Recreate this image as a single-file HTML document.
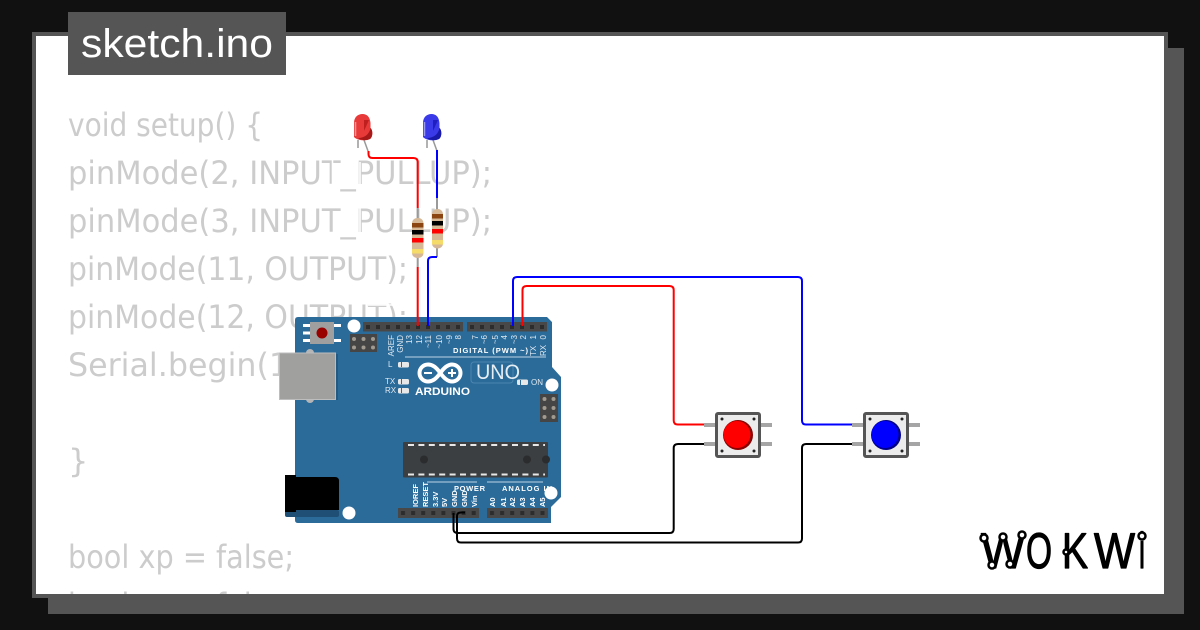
<!DOCTYPE html>
<html><head><meta charset="utf-8"><style>
html,body{margin:0;padding:0;background:#111;width:1200px;height:630px;overflow:hidden}
svg{display:block}
</style></head><body>
<svg width="1200" height="630" viewBox="0 0 1200 630" xmlns="http://www.w3.org/2000/svg">
<defs>
<pattern id="hdr" x="363" y="322" width="10" height="10" patternUnits="userSpaceOnUse"><rect width="10" height="10" fill="#484848"/><rect x="3" y="3" width="4" height="4" fill="#2c2c2c"/></pattern>
<pattern id="hdr2" x="467" y="322" width="10" height="10" patternUnits="userSpaceOnUse"><rect width="10" height="10" fill="#484848"/><rect x="3" y="3" width="4" height="4" fill="#2c2c2c"/></pattern>
<pattern id="hdr3" x="398" y="508" width="10.1" height="10" patternUnits="userSpaceOnUse"><rect width="10.1" height="10" fill="#484848"/><rect x="3" y="3" width="4" height="4" fill="#2c2c2c"/></pattern>
<pattern id="hdr4" x="487" y="508" width="10.1" height="10" patternUnits="userSpaceOnUse"><rect width="10.1" height="10" fill="#484848"/><rect x="3" y="3" width="4" height="4" fill="#2c2c2c"/></pattern>
<clipPath id="card"><rect x="36" y="36" width="1128" height="558"/></clipPath>
</defs>
<rect width="1200" height="630" fill="#111"/>
<rect x="48" y="48" width="1136" height="566" fill="#555"/>
<rect x="32" y="32" width="1136" height="566" fill="#555"/>
<rect x="36" y="36" width="1128" height="558" fill="#fff"/>

<g clip-path="url(#card)" font-family="'DejaVu Sans',sans-serif" font-size="32" fill="#ccc">
<text x="68" y="136" textLength="195" lengthAdjust="spacingAndGlyphs">void setup() {</text>
<text x="68" y="184" textLength="424" lengthAdjust="spacingAndGlyphs">pinMode(2, INPUT_PULLUP);</text>
<text x="68" y="232" textLength="424" lengthAdjust="spacingAndGlyphs">pinMode(3, INPUT_PULLUP);</text>
<text x="68" y="280" textLength="340" lengthAdjust="spacingAndGlyphs">pinMode(11, OUTPUT);</text>
<text x="68" y="328" textLength="340" lengthAdjust="spacingAndGlyphs">pinMode(12, OUTPUT);</text>
<text x="68" y="376" textLength="345" lengthAdjust="spacingAndGlyphs">Serial.begin(115200);</text>
<text x="68" y="472">}</text>
<text x="68" y="568" textLength="226" lengthAdjust="spacingAndGlyphs">bool xp = false;</text>
<text x="68" y="616" textLength="226" lengthAdjust="spacingAndGlyphs">bool yp = false;</text>
</g>

<rect x="68" y="12" width="218" height="63" fill="#555"/>
<text x="81" y="57" font-family="'Liberation Sans',sans-serif" font-size="40" fill="#fff" textLength="192" lengthAdjust="spacingAndGlyphs">sketch.ino</text>

<!-- white wires over text -->
<g fill="none" stroke="#fff" stroke-width="1.6">
<path d="M332.500 160V184"/>
<path d="M360 162V232"/>
<path d="M355.500 265V277"/>
<path d="M368 305H394Q398.500 305 398.500 310V326"/>
</g>

<!-- Board -->
<path d="M298 317H547L552 322V367L561 377V497L551 507V523H298Q295 523 295 520V320Q295 317 298 317Z" fill="#2b6b9a"/>
<circle cx="354" cy="326" r="6.500" fill="#fff"/>
<circle cx="552" cy="385" r="6.500" fill="#fff"/>
<circle cx="551" cy="493" r="6.500" fill="#fff"/>
<circle cx="349" cy="513" r="6.500" fill="#fff"/>

<rect x="363" y="322" width="100" height="9.500" fill="url(#hdr)"/>
<rect x="467" y="322" width="80" height="9.500" fill="url(#hdr2)"/>
<rect x="398" y="508" width="81" height="10" fill="url(#hdr3)"/>
<rect x="487" y="508" width="61" height="10" fill="url(#hdr4)"/>

<!-- reset -->
<g fill="#fff">
<rect x="303" y="324" width="8" height="3"/><rect x="303" y="331.500" width="8" height="3"/><rect x="303" y="339" width="8" height="3"/>
<rect x="333" y="324" width="8" height="3"/><rect x="333" y="339" width="8" height="3"/>
</g>
<rect x="310" y="322" width="24" height="22" fill="#9f9f9f"/>
<circle cx="322" cy="333" r="5.500" fill="#990000"/>
<!-- ICSP -->
<rect x="350" y="334" width="27" height="18" fill="#454545"/>
<g fill="#a09a90">
<circle cx="354" cy="339" r="2"/><circle cx="363.500" cy="339" r="2"/><circle cx="373" cy="339" r="2"/>
<circle cx="354" cy="347.500" r="2"/><circle cx="363.500" cy="347.500" r="2"/><circle cx="373" cy="347.500" r="2"/>
</g>
<rect x="540" y="394" width="18" height="28" fill="#454545"/>
<g fill="#a09a90">
<circle cx="544.500" cy="399" r="2"/><circle cx="553.500" cy="399" r="2"/>
<circle cx="544.500" cy="408" r="2"/><circle cx="553.500" cy="408" r="2"/>
<circle cx="544.500" cy="417" r="2"/><circle cx="553.500" cy="417" r="2"/>
</g>
<!-- USB -->
<circle cx="310" cy="353" r="4" fill="#b5b5b5"/>
<circle cx="310" cy="399" r="4" fill="#b5b5b5"/>
<rect x="336" y="354" width="2" height="46" fill="#235a84"/>
<rect x="279.500" y="353" width="56" height="46.500" fill="#a0a09e" stroke="#bdbdbd" stroke-width="1"/>
<!-- Jack -->
<rect x="285" y="510" width="54" height="7" rx="2" fill="#1f4f74"/>
<rect x="285" y="475" width="11" height="37" fill="#000"/>
<path d="M295 477H335Q339 477 339 481V510H295Z" fill="#000"/>
<!-- IC -->
<rect x="403" y="442" width="145" height="35.500" rx="1" fill="#3c3f41"/>
<g stroke="#e8e8e8" stroke-width="2" stroke-dasharray="6 4.400" fill="none">
<path d="M408 445H545"/><path d="M408 474.500H545"/>
</g>
<circle cx="424" cy="459.500" r="4" fill="#2a2c2e"/>
<circle cx="527" cy="459.500" r="4" fill="#2a2c2e"/>
<circle cx="546" cy="459.500" r="4" fill="#2a2c2e"/>

<!-- Lines -->
<g stroke="#bcd3e4" stroke-width="1" fill="none">
<path d="M405 357H546"/><path d="M427 482H477"/><path d="M487 482H543"/>
</g>
<!-- LEDs -->
<g fill="#e8e8e8">
<rect x="398" y="362" width="11" height="5.500" rx="1.500"/>
<rect x="398" y="379" width="11" height="5.500" rx="1.500"/>
<rect x="398" y="388" width="11" height="5.500" rx="1.500"/>
<rect x="517" y="379.500" width="11" height="5.500" rx="1.500"/>
</g>
<g fill="#2b6b9a"><rect x="401" y="362" width="1" height="5"/><rect x="401" y="379" width="1" height="5"/><rect x="401" y="388" width="1" height="5"/><rect x="520" y="380" width="1" height="5"/></g>

<!-- Labels -->
<g font-family="'Liberation Sans',sans-serif" fill="#dfe8ef" font-size="8">
<text x="388" y="367">L</text>
<text x="385" y="384">TX</text>
<text x="385" y="393">RX</text>
<text x="531" y="385">ON</text>
<text transform="translate(394,335) rotate(-90)" text-anchor="end">AREF</text>
<text transform="translate(403,335) rotate(-90)" text-anchor="end">GND</text>
<text transform="translate(412,335) rotate(-90)" text-anchor="end">13</text>
<text transform="translate(422,335) rotate(-90)" text-anchor="end">12</text>
<text transform="translate(431,335) rotate(-90)" text-anchor="end">~11</text>
<text transform="translate(442,335) rotate(-90)" text-anchor="end">~10</text>
<text transform="translate(452,335) rotate(-90)" text-anchor="end">~9</text>
<text transform="translate(461,335) rotate(-90)" text-anchor="end">8</text>
<text transform="translate(478,335) rotate(-90)" text-anchor="end">7</text>
<text transform="translate(487,335) rotate(-90)" text-anchor="end">~6</text>
<text transform="translate(498,335) rotate(-90)" text-anchor="end">~5</text>
<text transform="translate(507,335) rotate(-90)" text-anchor="end">4</text>
<text transform="translate(517,335) rotate(-90)" text-anchor="end">~3</text>
<text transform="translate(526,335) rotate(-90)" text-anchor="end">2</text>
<text transform="translate(536,335) rotate(-90)" text-anchor="end">1</text>
<text transform="translate(546,335) rotate(-90)" text-anchor="end">0</text>
<text transform="translate(536,356) rotate(-90)">TX</text>
<text transform="translate(546,356) rotate(-90)">RX</text>
</g>
<g font-family="'Liberation Sans',sans-serif" fill="#fff" font-weight="bold" font-size="7.500">
<text x="453" y="353" textLength="75">DIGITAL (PWM ~)</text>
<text x="454" y="491" textLength="31">POWER</text>
<text x="502" y="491" textLength="50">ANALOG IN</text>
<text transform="translate(418,507) rotate(-90)">IOREF</text>
<text transform="translate(428,507) rotate(-90)">RESET</text>
<text transform="translate(438,507) rotate(-90)">3.3V</text>
<text transform="translate(447,507) rotate(-90)">5V</text>
<text transform="translate(457,507) rotate(-90)">GND</text>
<text transform="translate(467,507) rotate(-90)">GND</text>
<text transform="translate(477,507) rotate(-90)">Vin</text>
<text transform="translate(495,507) rotate(-90)">A0</text>
<text transform="translate(506,507) rotate(-90)">A1</text>
<text transform="translate(515,507) rotate(-90)">A2</text>
<text transform="translate(525,507) rotate(-90)">A3</text>
<text transform="translate(535,507) rotate(-90)">A4</text>
<text transform="translate(545,507) rotate(-90)">A5</text>
</g>
<!-- Arduino logo -->
<g fill="none" stroke="#fff" stroke-width="4">
<path d="M440.300 373C436 367 432.500 364.500 428 364.500A8.500 8.500 0 0 0 428 381.500C432.500 381.500 436 379 440.300 373C444.500 367 448 364.500 452 364.500A8.500 8.500 0 0 1 452 381.500C448 381.500 444.500 379 440.300 373Z"/>
</g>
<g stroke="#fff" stroke-width="2"><path d="M424 373H432M448 373H456M452 369V377"/></g>
<text x="415" y="395" font-family="'Liberation Sans',sans-serif" font-size="11" font-weight="bold" fill="#fff" textLength="55" lengthAdjust="spacingAndGlyphs">ARDUINO</text>
<rect x="471" y="362" width="42" height="21" rx="3" fill="none" stroke="#4d86ae" stroke-width="1"/>
<text x="476" y="379" font-family="'Liberation Sans',sans-serif" font-size="21" fill="#e6eef4" textLength="44" lengthAdjust="spacingAndGlyphs">UNO</text>

<!-- LED components -->
<g stroke="#999" stroke-width="1.500" fill="none">
<path d="M358 140V148"/><path d="M364 140L368 151"/>
<path d="M427 140V148"/><path d="M433 140L437 151"/>
</g>
<path d="M354 137V123C354 117 358 114 362.500 114C367 114 370 117 370.500 123V128C373 130 373 137 370 139C366 141 358 141 354 137Z" fill="#e93a3a"/>
<path d="M355.500 122V136" stroke="#f59a9a" stroke-width="1.500" fill="none"/>
<path d="M364 120H369L364 131Z" fill="#c01f1f"/>
<path d="M370.500 128C373 130 373 137 370 139C366 141 360 140 358 138C364 138 369 135 370.500 128Z" fill="#a81a1a"/>
<path d="M423 137V123C423 117 427 114 431.500 114C436 114 439 117 439.500 123V128C442 130 442 137 439 139C435 141 427 141 423 137Z" fill="#3a3ae9"/>
<path d="M424.500 122V136" stroke="#9a9af5" stroke-width="1.500" fill="none"/>
<path d="M433 120H438L433 131Z" fill="#1f1fc0"/>
<path d="M439.500 128C442 130 442 137 439 139C435 141 429 140 427 138C433 138 438 135 439.500 128Z" fill="#1a1aa8"/>

<!-- Resistors -->
<g stroke="#9a9a9a" stroke-width="2"><path d="M417.700 208V267"/><path d="M437 198V257"/></g>
<rect x="412" y="218" width="11.500" height="40" rx="5" fill="#d6b896"/>
<rect x="412" y="223" width="11.500" height="4.500" fill="#8b4513"/>
<rect x="412" y="230" width="11.500" height="4.500" fill="#000"/>
<rect x="412" y="238" width="11.500" height="4.500" fill="#f00"/>
<rect x="412" y="249" width="11.500" height="4.500" fill="#f5dc6a"/>
<rect x="432" y="209" width="11" height="39.500" rx="5" fill="#d6b896"/>
<rect x="432" y="214" width="11" height="4.500" fill="#8b4513"/>
<rect x="432" y="221" width="11" height="4.500" fill="#000"/>
<rect x="432" y="229" width="11" height="4.500" fill="#f00"/>
<rect x="432" y="240" width="11" height="4.500" fill="#f5dc6a"/>

<!-- Buttons -->
<g fill="#a5a5a5">
<rect x="704" y="423" width="11" height="4"/><rect x="704" y="442" width="11" height="4"/>
<rect x="761" y="423" width="11" height="4"/><rect x="761" y="442" width="11" height="4"/>
<rect x="852" y="423" width="11" height="4"/><rect x="852" y="442" width="11" height="4"/>
<rect x="909" y="423" width="11" height="4"/><rect x="909" y="442" width="11" height="4"/>
</g>
<rect x="716.500" y="413.500" width="43" height="43" rx="1.500" fill="#ececec" stroke="#555" stroke-width="3"/>
<rect x="864.500" y="413.500" width="43" height="43" rx="1.500" fill="#ececec" stroke="#555" stroke-width="3"/>
<g fill="#222">
<circle cx="722" cy="419" r="1.500"/><circle cx="754" cy="419" r="1.500"/><circle cx="722" cy="451" r="1.500"/><circle cx="754" cy="451" r="1.500"/>
<circle cx="870" cy="419" r="1.500"/><circle cx="902" cy="419" r="1.500"/><circle cx="870" cy="451" r="1.500"/><circle cx="902" cy="451" r="1.500"/>
</g>
<circle cx="738" cy="435" r="15" fill="#8b0000"/>
<circle cx="737" cy="434.500" r="13.500" fill="#f00"/>
<circle cx="886" cy="435" r="15" fill="#00008b"/>
<circle cx="885" cy="434.500" r="13.500" fill="#00f"/>

<!-- Wires -->
<g fill="none" stroke-width="2" stroke-linejoin="round">
<path stroke="#f00" d="M368.500 151V154Q368.500 158 372.500 158H413.500Q417.700 158 417.700 162V208"/>
<path stroke="#f00" d="M417.700 267V326"/>
<path stroke="#00f" d="M437 150V198"/>
<path stroke="#00f" d="M437 257H432Q428 257 428 261V326"/>
<path stroke="#00f" d="M513 326V281Q513 277 517 277H798Q802 277 802 281V420.500Q802 424.500 806 424.500H852"/>
<path stroke="#f00" d="M522.500 326V290Q522.500 286 526.500 286H669.500Q673.700 286 673.700 290V420.500Q673.700 424.500 678 424.500H704"/>
<path stroke="#000" d="M704 444H678Q673.700 444 673.700 448V529Q673.700 533 669.500 533H458Q453.500 533 453.500 529V513"/>
<path stroke="#000" d="M852 444H806Q802 444 802 448V538.500Q802 542.500 798 542.500H461Q457 542.500 457 538.500V516Q457 512.500 461 512.500H465"/>
</g>

<!-- Wokwi logo -->
<g font-family="'Liberation Sans',sans-serif" font-size="50" fill="#000" stroke="#000" stroke-width="1.200" stroke-linejoin="round">
<text x="981" y="568" textLength="44" lengthAdjust="spacingAndGlyphs">W</text>
<text x="1026" y="568" textLength="26" lengthAdjust="spacingAndGlyphs">O</text>
<text x="1062" y="568" textLength="26" lengthAdjust="spacingAndGlyphs">K</text>
<text x="1094" y="568" textLength="41" lengthAdjust="spacingAndGlyphs">W</text>
<text x="1139" y="568" textLength="6" lengthAdjust="spacingAndGlyphs">i</text>
</g>
<g fill="#fff" stroke="#000" stroke-width="2.500">
<circle cx="984" cy="538" r="3.500"/>
<circle cx="1003" cy="537" r="3.500"/>
<circle cx="1022" cy="535" r="3.500"/>
<circle cx="992" cy="565" r="3.500"/>
<circle cx="1010" cy="564" r="3.500"/>
<circle cx="1066" cy="552" r="2.500"/>
<circle cx="1142" cy="536" r="3.500"/>
</g>
</svg>
</body></html>
